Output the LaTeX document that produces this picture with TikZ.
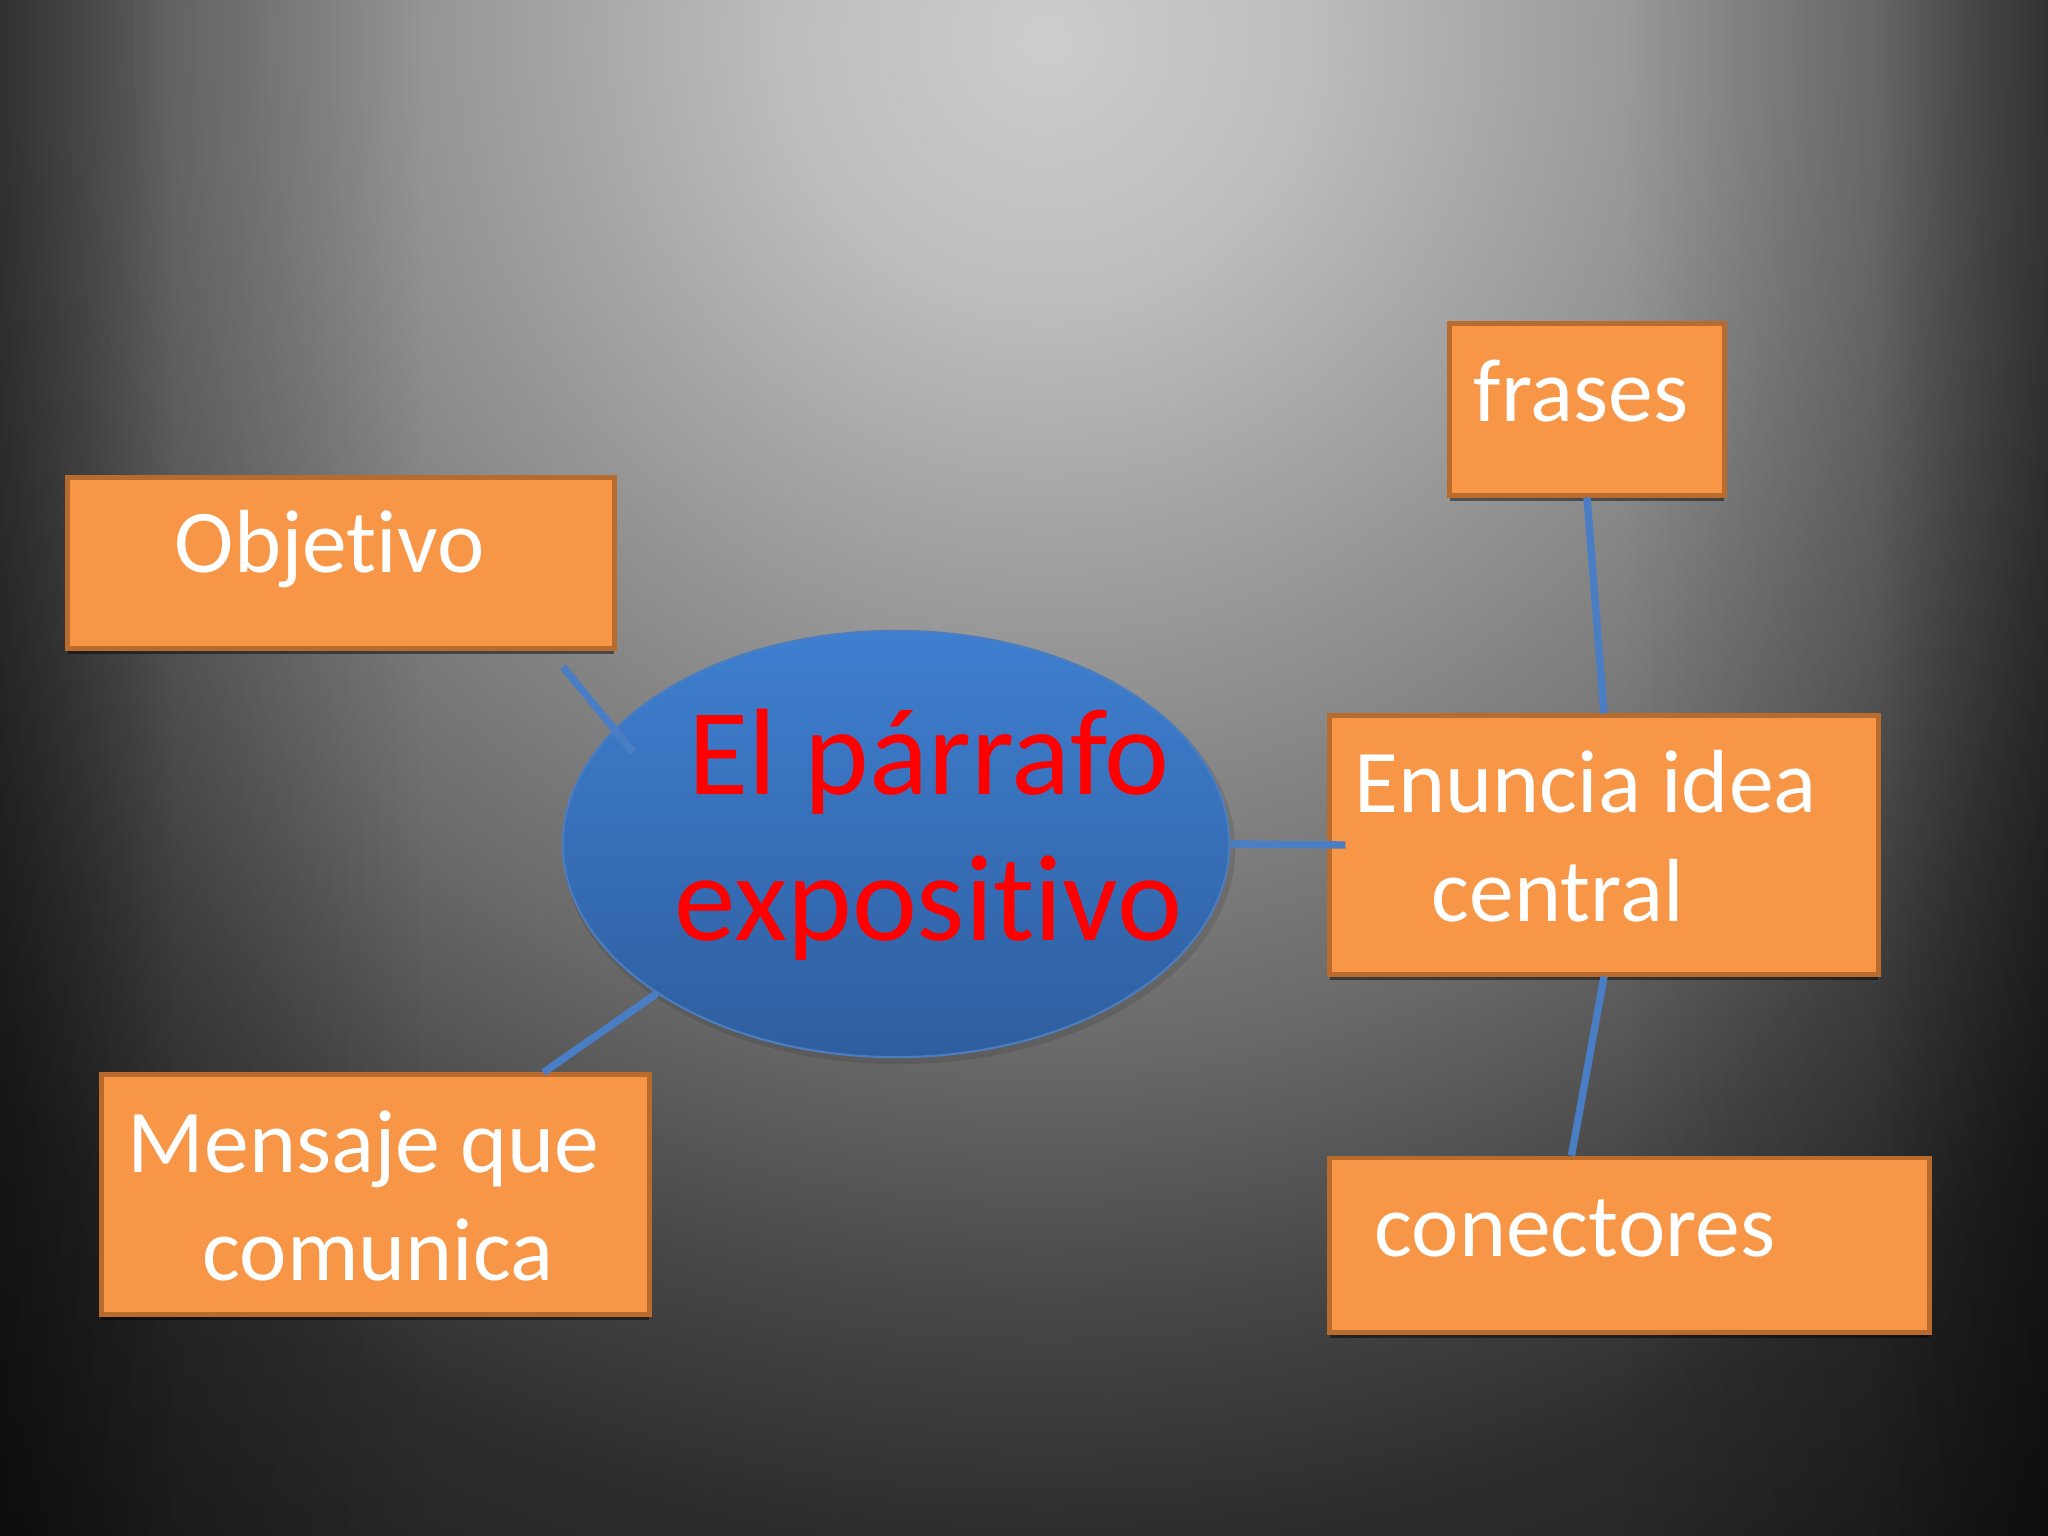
\documentclass[tikz,border=0pt]{standalone}
\usepackage{fontspec}
\setmainfont[Ligatures={NoCommon}]{Carlito}
\usetikzlibrary{shapes.geometric,calc,fadings,shadows}
\definecolor{boxfill}{HTML}{F79646}
\definecolor{boxline}{HTML}{B86B2C}
\definecolor{linkblue}{HTML}{4A7EC4}
\definecolor{elltop}{HTML}{3F7FD0}
\definecolor{ellbot}{HTML}{2E5E9F}
\definecolor{ellline}{HTML}{4C7DBE}
\definecolor{bga}{HTML}{CDCDCD}
\definecolor{bgb}{HTML}{BDBDBD}
\definecolor{bgc}{HTML}{969696}
\definecolor{bgd}{HTML}{6A6A6A}
\definecolor{bge}{HTML}{474747}
\definecolor{bgf}{HTML}{2D2D2D}
\definecolor{bgg}{HTML}{141414}
\pgfdeclareradialshading{bgshade}{\pgfpoint{0bp}{0bp}}{color(0bp)=(bga); color(4.35bp)=(bgb); color(10.2bp)=(bgc); color(16.75bp)=(bgd); color(21.1bp)=(bge); color(24.95bp)=(bgf); color(33bp)=(bgg); color(50bp)=(bgg)}
\tikzfading[name=fadeleft, left color=transparent!0, right color=transparent!100]
\tikzfading[name=faderight, left color=transparent!100, right color=transparent!0]
\tikzset{
  box/.style={rectangle, draw=boxline, fill=boxfill, line width=1.4pt, inner sep=0pt,
    drop shadow={shadow xshift=0pt, shadow yshift=-1.6pt, opacity=0.45, fill=black}},
  lbl/.style={text=white, font=\fontsize{25.5}{30.7}\selectfont, anchor=base west, inner sep=0pt},
  ttl/.style={text=red, font=\fontsize{35}{42}\selectfont, anchor=base west, inner sep=0pt},
  link/.style={draw=linkblue, line width=2.1pt},
  bubble/.style={ellipse, draw=ellline, line width=0.6pt, top color=elltop, bottom color=ellbot, inner sep=0pt}
}
\begin{document}
\begin{tikzpicture}[x=0.01cm,y=-0.01cm]
\useasboundingbox (0,0) rectangle (2048,1536);
\begin{scope}
  \clip (0,0) rectangle (2048,1536);
  \shade[shading=bgshade] (-455,-1460) rectangle (2545,1540);
  % side vignettes
  \fill[black, fill opacity=0.3, path fading=fadeleft] (0,0) rectangle (420,1536);
  \fill[black, fill opacity=0.3, path fading=fadeleft] (0,0) rectangle (170,1536);
  \fill[black, fill opacity=0.3, path fading=faderight] (1628,0) rectangle (2048,1536);
  \fill[black, fill opacity=0.3, path fading=faderight] (1878,0) rectangle (2048,1536);
\end{scope}
% soft shadow of ellipse
\fill[black, opacity=0.10] (899,849) ellipse [x radius=3.36cm, y radius=2.15cm];
% boxes
\node[box, minimum width=5.46cm, minimum height=1.70cm] (obj) at (341,563) {};
\node[box, minimum width=2.74cm, minimum height=1.71cm] (fra) at (1587,409.5) {};
\node[box, minimum width=5.48cm, minimum height=2.58cm] (enu) at (1604,845) {};
\node[box, minimum width=5.47cm, minimum height=2.39cm] (men) at (375.5,1194.5) {};
\node[box, minimum width=5.99cm, minimum height=1.74cm] (con) at (1629.5,1245) {};
% central ellipse
\node[bubble, minimum width=6.66cm, minimum height=4.26cm] (ell) at (896,844) {};
% texts
\node[lbl] (tobj) at (174,572) {Objetivo};
\node[lbl] (tfra) at (1473,421) {frases};
\node[lbl] (tenu1) at (1354,812) {Enuncia idea};
\node[lbl] (tenu2) at (1431,921) {central};
\node[lbl] (tmen1) at (127,1172) {Mensaje que};
\node[lbl] (tmen2) at (202,1280) {comunica};
\node[lbl] (tcon) at (1374,1256) {conectores};
\node[ttl] (tell1) at (688,794) {El párrafo};
\node[ttl] (tell2) at (674,940) {expositivo};
% connectors
\coordinate (o1) at (563,667);
\coordinate (o2) at (633,752);
\draw[link] (o1) -- (o2);
\draw[link] ($(men.north west)+(444,0)$) -- (ell.212.8);
\draw[link] (ell.east) -- ($(enu.west)+(18,0)$);
\draw[link] (fra.south) -- (enu.north);
\draw[link] (enu.south) -- ($(con.north)+(-58,0)$);
\end{tikzpicture}
\end{document}
